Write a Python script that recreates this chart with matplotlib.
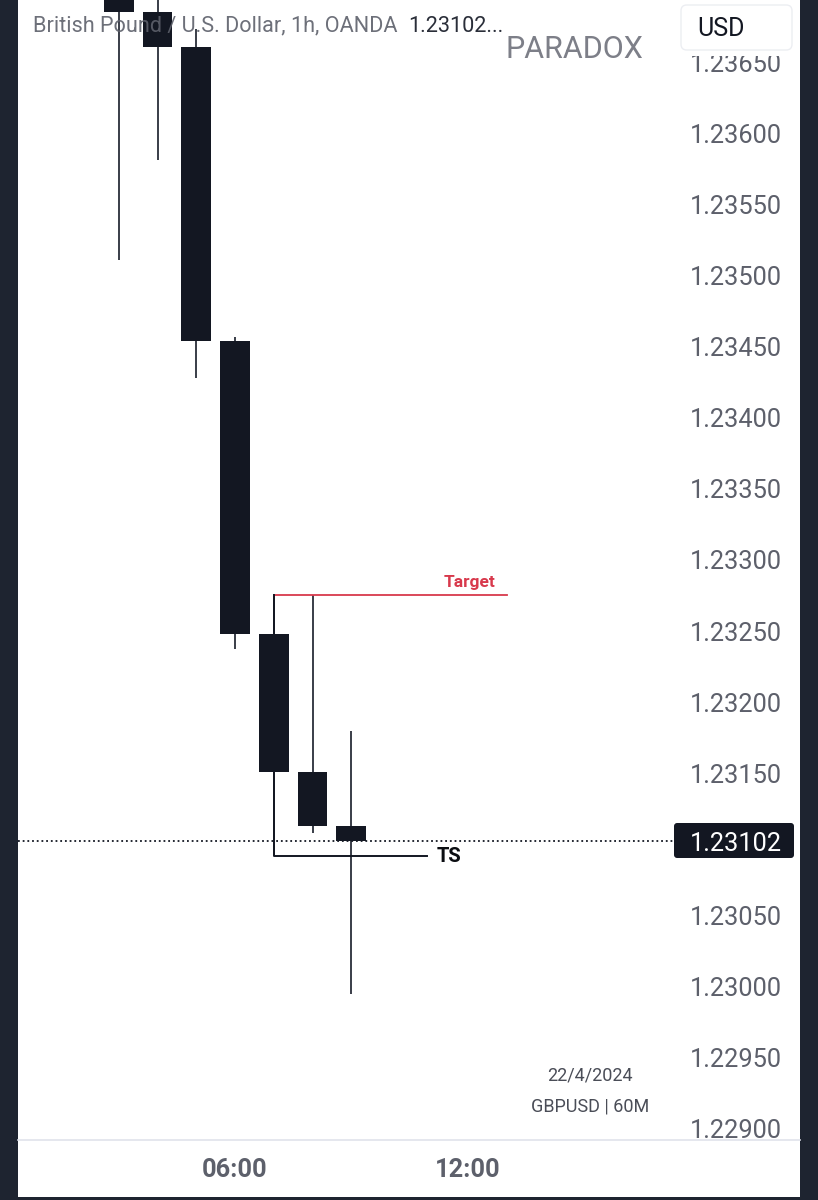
import matplotlib
matplotlib.use('Agg')
import matplotlib.pyplot as plt
from matplotlib.patches import FancyBboxPatch, Rectangle

plt.rcParams['font.family'] = ['Roboto', 'DejaVu Sans']

# candles, x is the hour of the day
hours = [3, 4, 5, 6, 7, 8, 9]
opens = [1.23730, 1.23685, 1.23661, 1.23454, 1.23248, 1.23151, 1.23113]
closes = [1.23685, 1.23661, 1.23454, 1.23248, 1.23151, 1.23113, 1.23102]
highs = [1.23760, 1.23720, 1.23673, 1.23457, 1.23275, 1.23275, 1.23180]
lows = [1.23511, 1.23581, 1.23428, 1.23237, 1.23092, 1.23108, 1.22995]

price_ticks = [1.23650, 1.23600, 1.23550, 1.23500, 1.23450, 1.23400, 1.23350, 1.23300,
               1.23250, 1.23200, 1.23150, 1.23050, 1.23000, 1.22950, 1.22900]
time_ticks = [6, 12]
time_labels = ['06:00', '12:00']
last_price = 1.23102
target_price = 1.23275
ts_price = 1.23092

W, H = 818, 1200
PX_PER_HOUR = 38.75
PX_PER_PRICE = 142200.0
ASPECT = PX_PER_HOUR / PX_PER_PRICE
LABEL_DROP = 2.5 / PX_PER_PRICE


# pixel helpers for the scale of the chart
def hour_at(px):
    return 6 + (px - 235) / PX_PER_HOUR


def price_at(py):
    return 1.23 + (986.5 - py) / PX_PER_PRICE


DARK = '#1e2430'
CANDLE = '#131722'
GREY = '#5d606b'

fig = plt.figure(figsize=(W / 100, H / 100), dpi=100, facecolor=DARK)

# white panel
bg = fig.add_axes([18 / W, 3 / H, 782 / W, 1 - 3 / H], zorder=-1)
bg.set_facecolor('white')
bg.set_xticks([])
bg.set_yticks([])
for s in bg.spines.values():
    s.set_visible(False)

ax = fig.add_axes([18 / W, 60 / H, 782 / W, 1140 / H])
ax.patch.set_alpha(0)
ax.set_xlim(hour_at(18), hour_at(800))
ax.set_ylim(price_at(1140), price_at(0))
for name in ['top', 'left', 'right']:
    ax.spines[name].set_visible(False)
ax.spines['bottom'].set_color('#e0e3eb')
ax.spines['bottom'].set_linewidth(1.2)
ax.yaxis.set_visible(False)
ax.set_xticks(time_ticks)
ax.set_xticklabels(time_labels, fontsize=18.3, fontweight='bold', color=GREY)
ax.tick_params(axis='x', length=0, pad=13)

# candles
for h, o, c, hi, lo in zip(hours, opens, closes, highs, lows):
    ax.vlines(h, lo, hi, color='#2a2e39', linewidth=1.3, zorder=2)
    ax.bar(h, abs(o - c), bottom=min(o, c), width=0.77, color=CANDLE, linewidth=0, zorder=3)

# last price line
ax.plot([hour_at(18), hour_at(673)], [last_price, last_price], color='#131722',
        linewidth=1.3, linestyle=(0, (1, 1.6)), zorder=4)

# drawn annotations
ax.plot([hour_at(274), hour_at(507)], [target_price, target_price], color='#d8394c', linewidth=1.3, zorder=5)
ax.text(hour_at(469), price_at(582), 'Target', color='#d8394c', fontsize=12.5, fontweight='bold',
        ha='center', va='center', zorder=6)
ax.plot([hour_at(274), hour_at(274), hour_at(427)], [target_price, ts_price, ts_price], color='#131722',
        linewidth=1.4, zorder=5)
ax.text(hour_at(449), price_at(857), 'TS', color='#0b0d12', fontsize=14.5, fontweight='bold',
        ha='center', va='center', zorder=6)

# price scale
for p in price_ticks:
    ax.text(hour_at(782), p - LABEL_DROP, '%.5f' % p, color=GREY, fontsize=18.3, ha='right', va='center', zorder=6)

ax.add_patch(FancyBboxPatch((hour_at(674), price_at(858)), hour_at(794) - hour_at(674), price_at(823) - price_at(858),
                            boxstyle='round,pad=0,rounding_size=0.08', mutation_aspect=ASPECT,
                            facecolor=CANDLE, edgecolor='none', zorder=6))
ax.text(hour_at(782), price_at(844), '%.5f' % last_price, color='white', fontsize=18.3, ha='right', va='center', zorder=7)

# header
ax.text(hour_at(33), price_at(26), 'British Pound / U.S. Dollar, 1h, OANDA', color=GREY, fontsize=15.6,
        ha='left', va='center', alpha=0.9, zorder=8)
ax.text(hour_at(408), price_at(26), '1.23102...', color='#2a2e39', fontsize=15.6, ha='left', va='center', zorder=8)
ax.text(hour_at(574), price_at(49), 'PARADOX', color='#7d7f88', fontsize=22, ha='center', va='center', zorder=8)

# USD button, the top price label runs under it
ax.add_patch(Rectangle((hour_at(680), price_at(56)), hour_at(793) - hour_at(680), price_at(30) - price_at(56),
                       facecolor='white', edgecolor='none', zorder=7))
ax.add_patch(FancyBboxPatch((hour_at(681), price_at(50)), hour_at(792) - hour_at(681), price_at(5) - price_at(50),
                            boxstyle='round,pad=0,rounding_size=0.15', mutation_aspect=ASPECT,
                            facecolor='white', edgecolor='#eceef2', linewidth=1, zorder=7))
ax.text(hour_at(697), price_at(29), 'USD', color='#131722', fontsize=18, ha='left', va='center', zorder=8)

# chart notes
ax.text(hour_at(590), price_at(1076), '22/4/2024', color='#4a4d57', fontsize=13, ha='center', va='center', zorder=6)
ax.text(hour_at(590), price_at(1107), 'GBPUSD | 60M', color='#4a4d57', fontsize=13, ha='center', va='center', zorder=6)

fig.savefig('out.png', dpi=100, facecolor=fig.get_facecolor())
